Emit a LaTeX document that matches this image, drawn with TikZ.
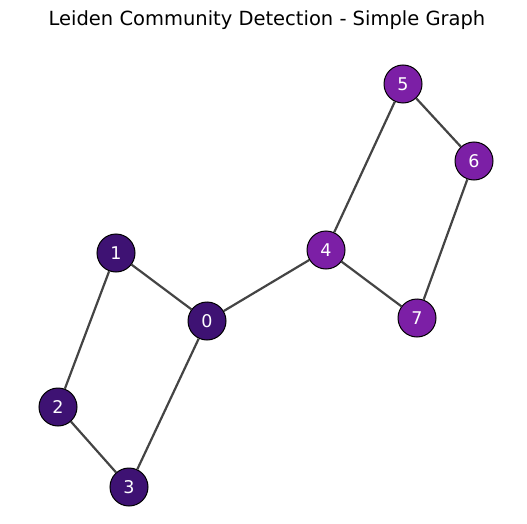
\documentclass[tikz,border=0pt]{standalone}
\usepackage{fontspec}
\setmainfont{DejaVu Sans}
\usetikzlibrary{positioning}
\definecolor{commA}{HTML}{3E1273}
\definecolor{commB}{HTML}{7C1FA6}
\definecolor{edgegray}{HTML}{444444}

\begin{document}
\begin{tikzpicture}[x=1pt, y=-1pt]
    % Define the style for the vertices and links
    \tikzset{
        vertex/.style={circle, draw=black, line width=1pt, minimum size=38pt, inner sep=0pt, text=white, font=\fontsize{17.5}{18}\selectfont},
        link/.style={draw=edgegray, line width=2.2pt}
    }

    % Fix the canvas
    \useasboundingbox (0,0) rectangle (527,524);

    % Title
    \node[font=\fontsize{19.5}{20}\selectfont] (title) at (267,20) {Leiden Community Detection - Simple Graph};

    % Draw the vertices of both communities
    \node[vertex, fill=commA] (v0) at (207,321) {0};
    \node[vertex, fill=commA] (v1) at (116,253) {1};
    \node[vertex, fill=commA] (v2) at (58,407) {2};
    \node[vertex, fill=commA] (v3) at (129,487) {3};
    \node[vertex, fill=commB] (v4) at (326,250) {4};
    \node[vertex, fill=commB] (v5) at (403,84) {5};
    \node[vertex, fill=commB] (v6) at (474,161) {6};
    \node[vertex, fill=commB] (v7) at (417,318) {7};

    % Draw the links between the vertices
    \foreach \a/\b in {v0/v1, v0/v3, v0/v4, v1/v2, v2/v3, v4/v5, v4/v7, v5/v6, v6/v7}
        \draw[link] (\a) -- (\b);
\end{tikzpicture}
\end{document}
